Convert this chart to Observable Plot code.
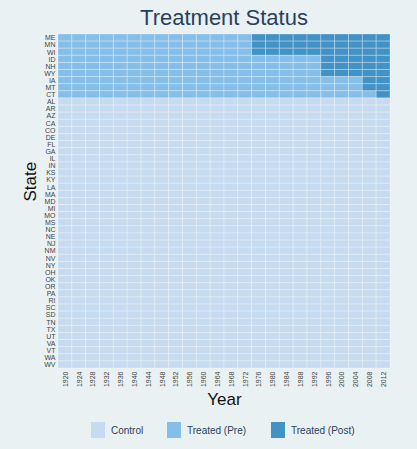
<!DOCTYPE html>
<html>
<head>
<meta charset="utf-8">
<script src="https://cdn.jsdelivr.net/npm/d3@7"></script>
<script src="https://cdn.jsdelivr.net/npm/@observablehq/plot@0.6"></script>
<style>
  body { margin: 0; background: #e9f1f3; font-family: "Liberation Sans", Arial, sans-serif; }
  #wrap { width: 417px; height: 449px; position: relative; background: #e9f1f3; }
  #title { position: absolute; left: 58px; width: 332px; top: 5px; text-align: center; font-size: 22px; color: #2a3f5f; }
  #chart { position: absolute; left: 0; top: 34px; }
  #legend { position: absolute; top: 422px; left: 0; width: 417px; height: 16px; font-size: 10px; color: #2a3f5f; }
  .item { position: absolute; top: 0; display: flex; align-items: center; height: 16px; }
  .sw { width: 14px; height: 16px; margin-right: 6px; }
</style>
</head>
<body>
<div id="wrap">
  <div id="title">Treatment Status</div>
  <div id="chart"></div>
  <div id="legend"></div>
</div>
<script>
const years = [1920, 1924, 1928, 1932, 1936, 1940, 1944, 1948, 1952, 1956, 1960, 1964,
               1968, 1972, 1976, 1980, 1984, 1988, 1992, 1996, 2000, 2004, 2008, 2012];
const states = ["ME","MN","WI","ID","NH","WY","IA","MT","CT","AL","AR","AZ","CA","CO","DE","FL",
                "GA","IL","IN","KS","KY","LA","MA","MD","MI","MO","MS","NC","NE","NJ","NM","NV",
                "NY","OH","OK","OR","PA","RI","SC","SD","TN","TX","UT","VA","VT","WA","WV"];
const treatedStates = ["ME","MN","WI","ID","NH","WY","IA","MT","CT"];
const treatmentYears = [1976, 1976, 1976, 1996, 1996, 1996, 2008, 2008, 2012];
const statusLabels = ["Control", "Treated (Pre)", "Treated (Post)"];
const statusColors = ["#c6dbef", "#85bfe9", "#4292c6"];

const startOf = new Map(treatedStates.map((s, i) => [s, treatmentYears[i]]));
const cells = [];
for (const s of states) {
  for (const y of years) {
    let status;
    if (!startOf.has(s)) status = statusLabels[0];
    else status = y < startOf.get(s) ? statusLabels[1] : statusLabels[2];
    cells.push({state: s, year: y, status});
  }
}

const plot = Plot.plot({
  width: 417,
  height: 376,
  marginTop: 0,
  marginBottom: 42,
  marginLeft: 58,
  marginRight: 27,
  style: { background: "transparent", fontFamily: "Liberation Sans, Arial, sans-serif" },
  x: { type: "band", domain: years, padding: 0, round: false, label: null },
  y: { type: "band", domain: states, padding: 0, round: false, label: null },
  color: { domain: statusLabels, range: statusColors },
  marks: [
    Plot.cell(cells, { x: "year", y: "state", fill: "status", inset: 0, stroke: "white", strokeOpacity: 0.28, strokeWidth: 1 }),
    Plot.axisX({ tickRotate: -90, tickSize: 0, tickPadding: 3, fontSize: 7, color: "#444", label: null, tickFormat: d => String(d) }),
    Plot.axisY({ tickSize: 0, tickPadding: 3, fontSize: 7, color: "#444", label: null }),
    Plot.text(["Year"], { frameAnchor: "bottom", lineAnchor: "middle", dy: 31, fontSize: 17, fill: "#111", text: d => d }),
    Plot.text(["State"], { frameAnchor: "left", lineAnchor: "middle", dx: -28, rotate: -90, fontSize: 17, fill: "#111", text: d => d })
  ]
});
document.getElementById("chart").appendChild(plot);

const legend = document.getElementById("legend");
const lefts = [91, 167, 271];
statusLabels.forEach((lab, i) => {
  const it = document.createElement("div");
  it.className = "item";
  it.style.left = lefts[i] + "px";
  const sw = document.createElement("div");
  sw.className = "sw";
  sw.style.background = statusColors[i];
  const t = document.createElement("span");
  t.textContent = lab;
  it.appendChild(sw);
  it.appendChild(t);
  legend.appendChild(it);
});
</script>
</body>
</html>
